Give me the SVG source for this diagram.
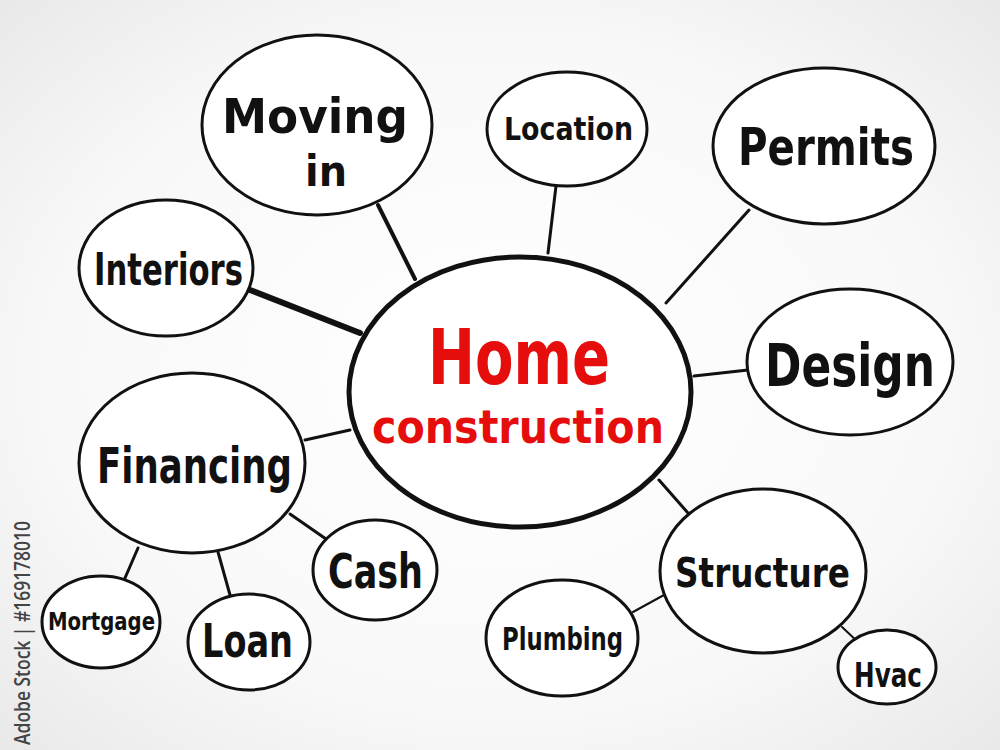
<svg xmlns="http://www.w3.org/2000/svg" width="1000" height="750" viewBox="0 0 1000 750">
<defs>
<radialGradient id="bg" cx="0.5" cy="0.5" r="0.75">
<stop offset="0" stop-color="#ffffff"/>
<stop offset="0.6" stop-color="#f8f8f8"/>
<stop offset="1" stop-color="#e6e6e6"/>
</radialGradient>
<style>
.n{fill:#fff;stroke:#111;stroke-width:3}
.c{stroke:#111;stroke-width:3;stroke-linecap:round;fill:none}
.t{font-family:"DejaVu Sans Condensed","DejaVu Sans",sans-serif;font-weight:bold;fill:#111;text-anchor:start}
.r{font-family:"DejaVu Sans Condensed","DejaVu Sans",sans-serif;font-weight:bold;fill:#e60d0d}
</style>
</defs>
<rect width="1000" height="750" fill="url(#bg)"/>
<g id="connectors">
<line class="c" x1="378" y1="205" x2="415" y2="279" style="stroke-width:4"/>
<line class="c" x1="556" y1="186" x2="548" y2="253"/>
<line class="c" x1="749" y1="210" x2="666" y2="303"/>
<line class="c" x1="250" y1="290" x2="360" y2="333" style="stroke-width:6"/>
<line class="c" x1="748" y1="370" x2="694" y2="376"/>
<line class="c" x1="305" y1="440" x2="350" y2="430"/>
<line class="c" x1="659" y1="480" x2="688" y2="513"/>
<line class="c" x1="290" y1="514" x2="326" y2="539"/>
<line class="c" x1="138" y1="548" x2="125" y2="578"/>
<line class="c" x1="218" y1="552" x2="230" y2="595"/>
<line class="c" x1="664" y1="595" x2="633" y2="612" style="stroke-width:2"/>
<line class="c" x1="842" y1="627" x2="859" y2="643" style="stroke-width:2"/>
</g>
<g id="center">
<ellipse class="n" cx="520" cy="392" rx="171" ry="135" style="stroke-width:5"/>
<text class="r" x="428" y="384" font-size="76" textLength="182" lengthAdjust="spacingAndGlyphs">Home</text>
<text class="r" x="372" y="443" font-size="46" textLength="292" lengthAdjust="spacingAndGlyphs">construction</text>
</g>
<g id="moving-in">
<ellipse class="n" cx="317" cy="125" rx="115" ry="90"/>
<text class="t" x="222" y="133" font-size="48" textLength="186" lengthAdjust="spacingAndGlyphs">Moving</text>
<text class="t" x="305" y="186" font-size="42" textLength="42" lengthAdjust="spacingAndGlyphs">in</text>
</g>
<g id="location">
<ellipse class="n" cx="567" cy="129" rx="80" ry="57"/>
<text class="t" x="504" y="140" font-size="32" textLength="129" lengthAdjust="spacingAndGlyphs">Location</text>
</g>
<g id="permits">
<ellipse class="n" cx="824" cy="146" rx="111" ry="78"/>
<text class="t" x="738" y="165" font-size="52" textLength="176" lengthAdjust="spacingAndGlyphs">Permits</text>
</g>
<g id="interiors">
<ellipse class="n" cx="166" cy="268" rx="87" ry="68"/>
<text class="t" x="94" y="285" font-size="44" textLength="149" lengthAdjust="spacingAndGlyphs">Interiors</text>
</g>
<g id="design">
<ellipse class="n" cx="850" cy="362" rx="103" ry="73"/>
<text class="t" x="765" y="386" font-size="58" textLength="170" lengthAdjust="spacingAndGlyphs">Design</text>
</g>
<g id="financing">
<ellipse class="n" cx="192" cy="463" rx="113" ry="90"/>
<text class="t" x="97" y="483" font-size="50" textLength="195" lengthAdjust="spacingAndGlyphs">Financing</text>
</g>
<g id="cash">
<ellipse class="n" cx="375" cy="570" rx="62" ry="50"/>
<text class="t" x="328" y="588" font-size="48" textLength="95" lengthAdjust="spacingAndGlyphs">Cash</text>
</g>
<g id="mortgage">
<ellipse class="n" cx="101" cy="622" rx="59" ry="46"/>
<text class="t" x="48" y="630" font-size="24" textLength="107" lengthAdjust="spacingAndGlyphs">Mortgage</text>
</g>
<g id="loan">
<ellipse class="n" cx="249" cy="642" rx="61" ry="48"/>
<text class="t" x="202" y="657" font-size="46" textLength="91" lengthAdjust="spacingAndGlyphs">Loan</text>
</g>
<g id="structure">
<ellipse class="n" cx="763" cy="571" rx="103" ry="82"/>
<text class="t" x="675" y="587" font-size="40" textLength="175" lengthAdjust="spacingAndGlyphs">Structure</text>
</g>
<g id="plumbing">
<ellipse class="n" cx="562" cy="638" rx="76" ry="58"/>
<text class="t" x="502" y="650" font-size="32" textLength="121" lengthAdjust="spacingAndGlyphs">Plumbing</text>
</g>
<g id="hvac">
<ellipse class="n" cx="887" cy="667" rx="49" ry="37"/>
<text class="t" x="854" y="687" font-size="34" textLength="68" lengthAdjust="spacingAndGlyphs">Hvac</text>
</g>
<text transform="translate(30,633) rotate(-90)" font-family="'Open Sans','Noto Sans',sans-serif" font-weight="600" font-size="21" fill="#444" text-anchor="middle" textLength="224" lengthAdjust="spacingAndGlyphs">Adobe Stock | #169178010</text>
</svg>
